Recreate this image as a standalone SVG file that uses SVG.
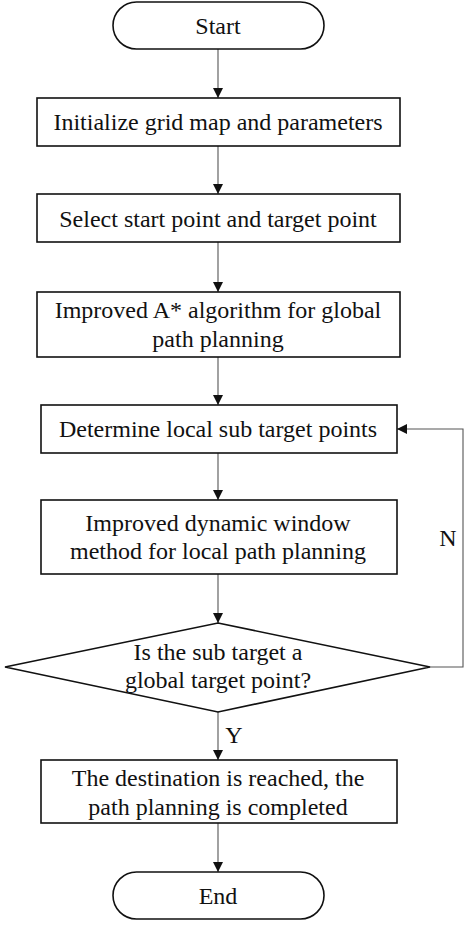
<svg xmlns="http://www.w3.org/2000/svg" width="474" height="926" viewBox="0 0 474 926">
<style>
.n{fill:#fff;stroke:#111;stroke-width:1.6}
.t{font-family:"Liberation Serif","Times New Roman",serif;font-size:24px;fill:#111;text-anchor:middle}
.c{fill:none;stroke:#555;stroke-width:1.1}
</style>
<defs>
<marker id="a" viewBox="0 0 10 10" refX="10" refY="5" markerWidth="10" markerHeight="10" markerUnits="userSpaceOnUse" orient="auto">
<path d="M0,0 L10,5 L0,10 Z" fill="#111"/>
</marker>
</defs>
<rect width="474" height="926" fill="#fff"/>
<g id="connectors">
<line class="c" x1="218" y1="49" x2="218" y2="98" marker-end="url(#a)"/>
<line class="c" x1="218" y1="146" x2="218" y2="194" marker-end="url(#a)"/>
<line class="c" x1="218" y1="242" x2="218" y2="292" marker-end="url(#a)"/>
<line class="c" x1="218" y1="357" x2="218" y2="405" marker-end="url(#a)"/>
<line class="c" x1="218" y1="453" x2="218" y2="500" marker-end="url(#a)"/>
<line class="c" x1="218" y1="574" x2="218" y2="623" marker-end="url(#a)"/>
<line class="c" x1="218" y1="712" x2="218" y2="760" marker-end="url(#a)"/>
<line class="c" x1="218" y1="823" x2="218" y2="872" marker-end="url(#a)"/>
<polyline class="c" points="430,667 463,667 463,429 397,429" marker-end="url(#a)"/>
<text class="t" x="448" y="546">N</text>
<text class="t" x="234" y="743">Y</text>
</g>
<g id="start">
<rect class="n" x="113" y="2" width="211" height="47" rx="23.5"/>
<text class="t" x="218" y="34">Start</text>
</g>
<g id="init">
<rect class="n" x="37" y="98" width="363" height="48"/>
<text class="t" x="218" y="130">Initialize grid map and parameters</text>
</g>
<g id="select">
<rect class="n" x="37" y="194" width="363" height="48"/>
<text class="t" x="218" y="227">Select start point and target point</text>
</g>
<g id="astar">
<rect class="n" x="37" y="292" width="363" height="65"/>
<text class="t" x="218" y="318">Improved A* algorithm for global</text>
<text class="t" x="218" y="347">path planning</text>
</g>
<g id="subtarget">
<rect class="n" x="41" y="405" width="356" height="48"/>
<text class="t" x="218" y="437">Determine local sub target points</text>
</g>
<g id="dwa">
<rect class="n" x="41" y="500" width="356" height="74"/>
<text class="t" x="218" y="531">Improved dynamic window</text>
<text class="t" x="218" y="559">method for local path planning</text>
</g>
<g id="decision">
<polygon class="n" points="218,623 430,667 218,712 5,667"/>
<text class="t" x="218" y="660">Is the sub target a</text>
<text class="t" x="218" y="688">global target point?</text>
</g>
<g id="done">
<rect class="n" x="41" y="760" width="356" height="63"/>
<text class="t" x="218" y="786">The destination is reached, the</text>
<text class="t" x="218" y="815">path planning is completed</text>
</g>
<g id="end">
<rect class="n" x="113" y="872" width="211" height="47" rx="23.5"/>
<text class="t" x="218" y="904">End</text>
</g>
</svg>
